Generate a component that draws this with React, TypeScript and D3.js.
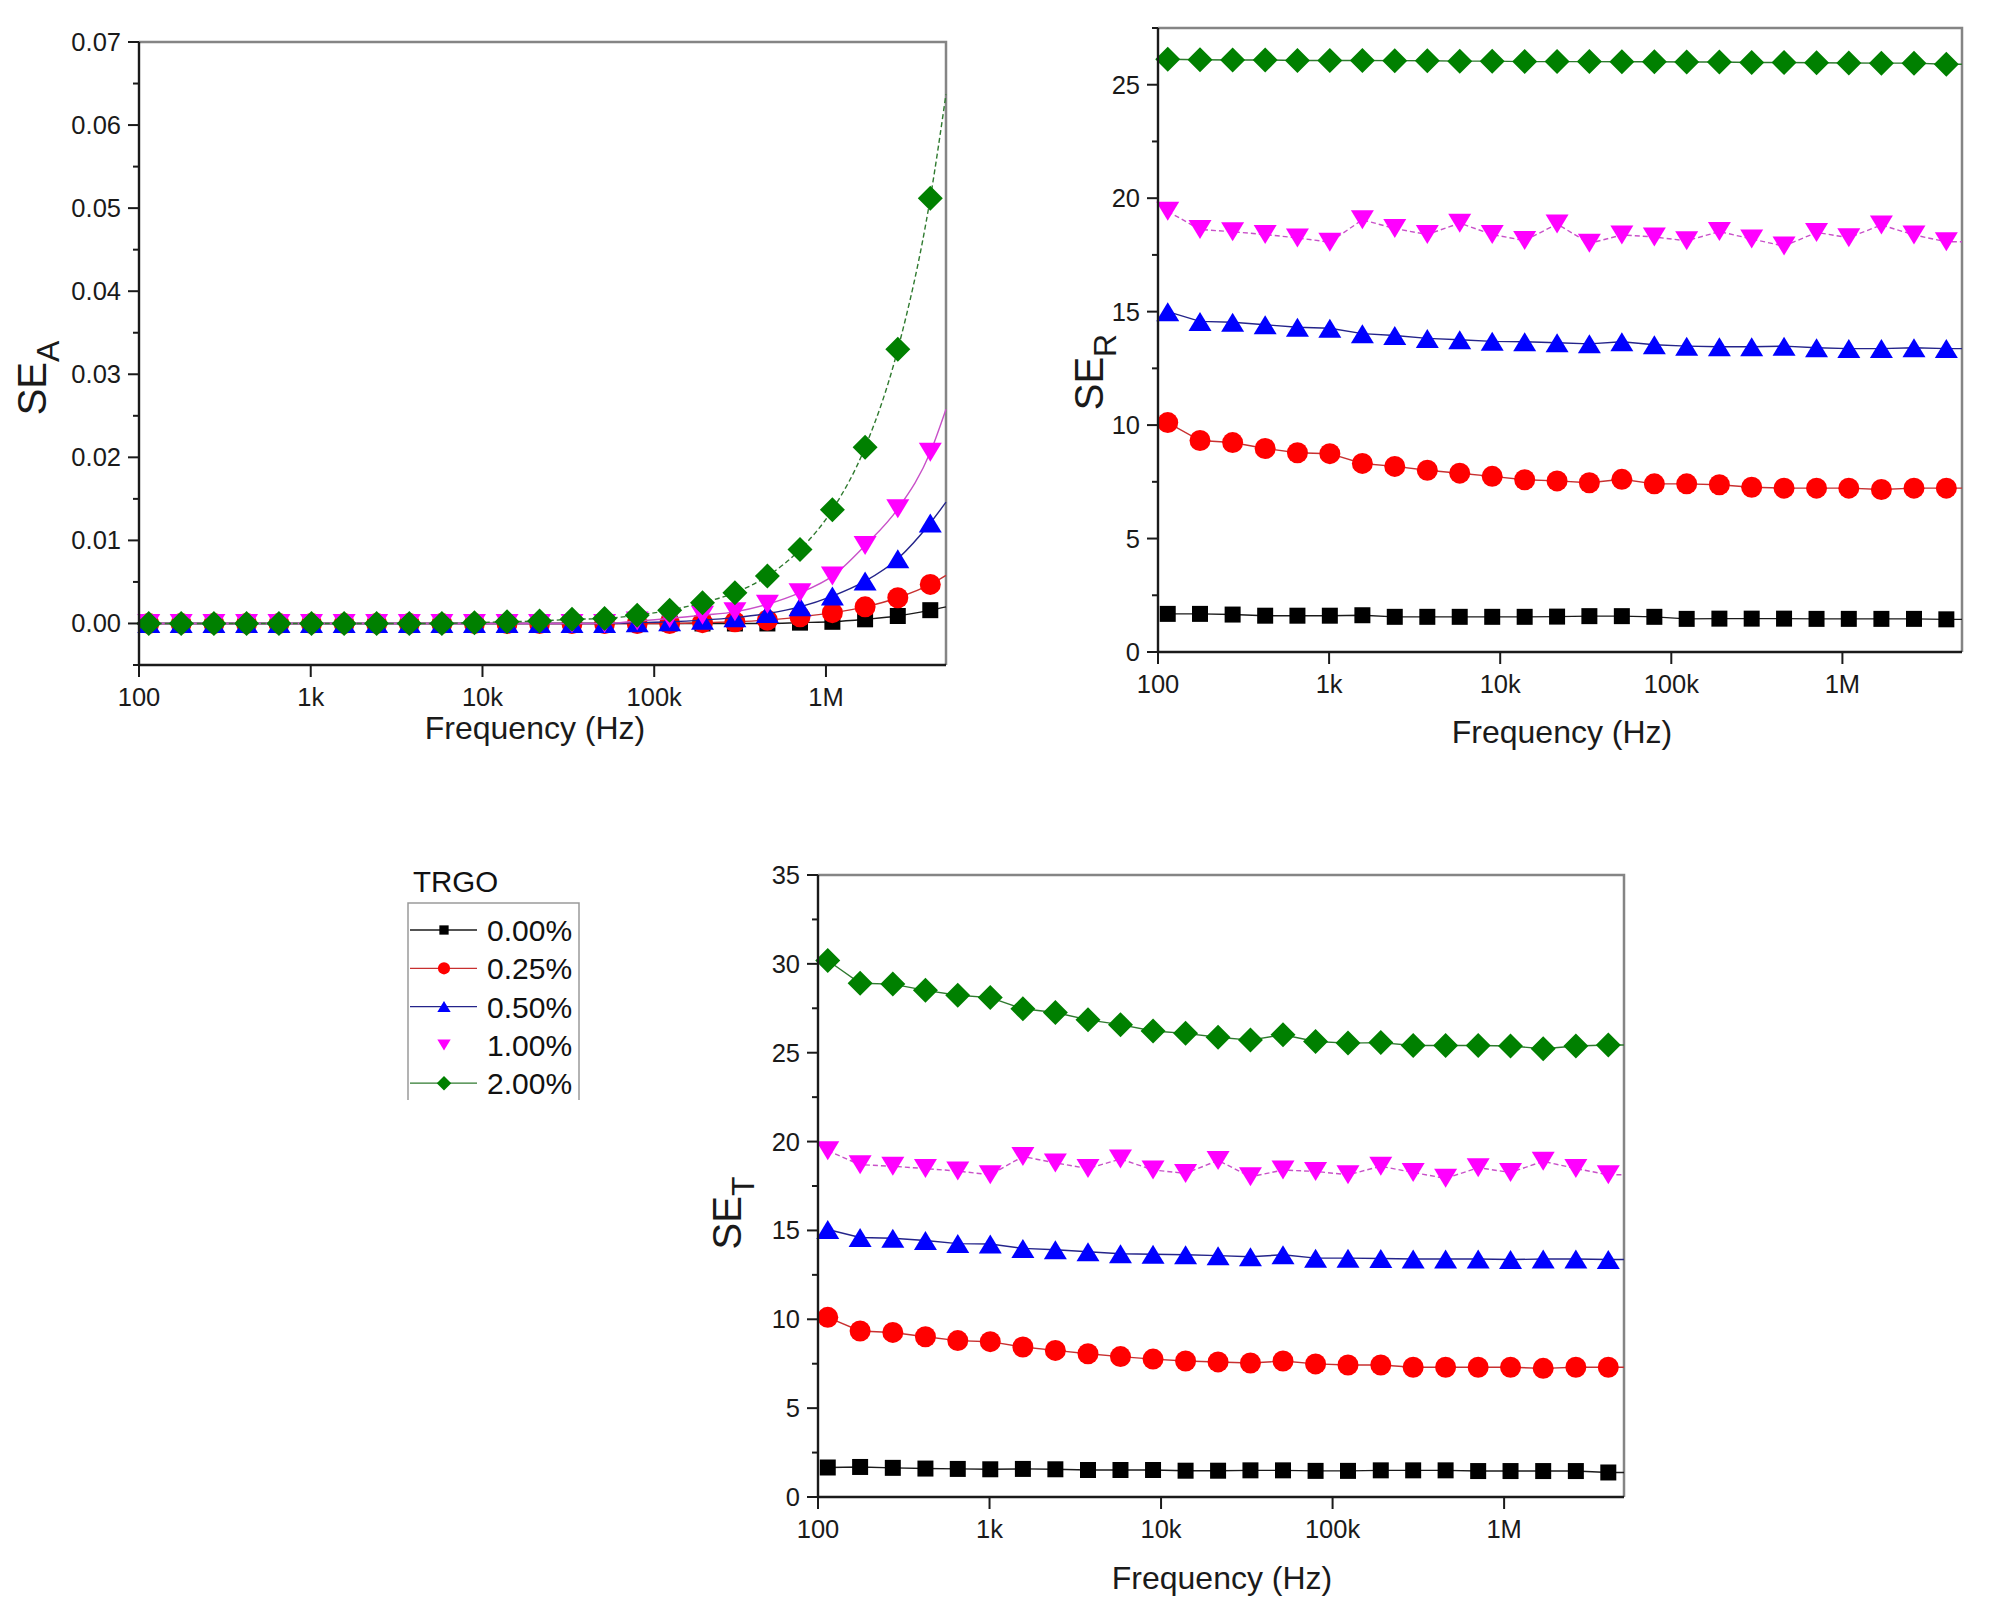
import React from 'react';
import * as d3 from 'd3';

// Sweep frequencies (Hz) shared by all three panels
const frequencies = [
  114, 176, 273, 423, 653, 1010, 1565, 2420, 3750, 5800, 8980, 13900, 21500,
  33200, 51400, 79600, 123000, 191000, 295000, 456000, 706000, 1090000,
  1690000, 2620000, 4050000,
];
const freqDomain = [100, 5000000];
const freqTicks = [100, 1000, 10000, 100000, 1000000];
const freqTickLabels = ['100', '1k', '10k', '100k', '1M'];

// Legend
const legendTitle = 'TRGO';
const seriesNames = ['0.00%', '0.25%', '0.50%', '1.00%', '2.00%'];

// SE_A (absorption)
const seaBlack = [0, 0, 0, 0, 0, 0, 0, 0, 0, 0, 0, 0, 0, 0, 0, 0, 0, 0, 0, 0, 0.0001, 0.0002, 0.0005, 0.0009, 0.0016];
const seaRed = [0, 0, 0, 0, 0, 0, 0, 0, 0, 0, 0, 0, 0, 0, 0, 0, 0, 0.0001, 0.0002, 0.0004, 0.0008, 0.0013, 0.0020, 0.0031, 0.0047];
const seaBlue = [0, 0, 0, 0, 0, 0, 0, 0, 0, 0, 0, 0, 0, 0, 0, 0.0001, 0.0002, 0.0004, 0.0007, 0.0012, 0.0020, 0.0033, 0.0051, 0.0078, 0.0121];
const seaMagenta = [0, 0, 0, 0, 0, 0, 0, 0, 0, 0, 0, 0, 0, 0, 0, 0.0003, 0.0006, 0.0010, 0.0014, 0.0023, 0.0037, 0.0057, 0.0094, 0.0138, 0.0206];
const seaGreen = [0, 0, 0, 0, 0, 0, 0, 0, 0, 0, 0.0001, 0.0002, 0.0003, 0.0005, 0.0006, 0.0010, 0.0016, 0.0025, 0.0037, 0.0057, 0.0089, 0.0137, 0.0212, 0.0330, 0.0512];
// curve values where each SE_A trace meets the right frame (5 MHz)
const seaLineEnd = [0.0020, 0.0058, 0.0146, 0.0258, 0.0637];
const seaTicks = [0, 0.01, 0.02, 0.03, 0.04, 0.05, 0.06, 0.07];
const seaMinor = [-0.005, 0.005, 0.015, 0.025, 0.035, 0.045, 0.055, 0.065];

// SE_R (reflection)
const serBlack = [1.68, 1.68, 1.65, 1.60, 1.60, 1.60, 1.62, 1.55, 1.55, 1.55, 1.55, 1.55, 1.56, 1.58, 1.58, 1.55, 1.46, 1.47, 1.47, 1.47, 1.46, 1.46, 1.46, 1.46, 1.44];
const serRed = [10.11, 9.32, 9.23, 8.97, 8.78, 8.74, 8.31, 8.18, 8.01, 7.88, 7.74, 7.59, 7.54, 7.46, 7.61, 7.41, 7.41, 7.37, 7.26, 7.22, 7.22, 7.22, 7.16, 7.22, 7.22];
const serBlue = [15.0, 14.57, 14.53, 14.42, 14.31, 14.27, 14.03, 13.95, 13.82, 13.76, 13.69, 13.67, 13.63, 13.58, 13.67, 13.54, 13.48, 13.45, 13.45, 13.48, 13.41, 13.37, 13.37, 13.41, 13.37];
const serMagenta = [19.42, 18.62, 18.52, 18.40, 18.25, 18.06, 19.05, 18.66, 18.40, 18.90, 18.40, 18.13, 18.86, 18.01, 18.38, 18.29, 18.12, 18.53, 18.20, 17.89, 18.49, 18.26, 18.82, 18.38, 18.08];
const serGreen = [26.12, 26.10, 26.09, 26.09, 26.07, 26.07, 26.07, 26.06, 26.06, 26.04, 26.04, 26.02, 26.02, 26.02, 26.01, 26.01, 26.0, 26.0, 25.98, 25.98, 25.97, 25.96, 25.95, 25.95, 25.90];
const serTicks = [0, 5, 10, 15, 20, 25];
const serMinor = [2.5, 7.5, 12.5, 17.5, 22.5, 27.5];

// SE_T (total)
const setBlack = [1.66, 1.69, 1.64, 1.60, 1.58, 1.56, 1.58, 1.56, 1.52, 1.52, 1.52, 1.48, 1.48, 1.50, 1.50, 1.47, 1.47, 1.50, 1.50, 1.50, 1.46, 1.46, 1.46, 1.46, 1.38];
const setRed = [10.11, 9.34, 9.26, 9.02, 8.80, 8.74, 8.44, 8.25, 8.06, 7.90, 7.76, 7.65, 7.60, 7.54, 7.65, 7.49, 7.43, 7.43, 7.30, 7.30, 7.30, 7.30, 7.24, 7.30, 7.30];
const setBlue = [15.05, 14.60, 14.56, 14.43, 14.26, 14.24, 13.99, 13.91, 13.80, 13.69, 13.66, 13.63, 13.58, 13.52, 13.63, 13.44, 13.44, 13.42, 13.39, 13.39, 13.39, 13.36, 13.39, 13.39, 13.36];
const setMagenta = [19.48, 18.70, 18.61, 18.48, 18.34, 18.13, 19.16, 18.80, 18.48, 19.02, 18.40, 18.21, 18.94, 18.02, 18.40, 18.32, 18.13, 18.61, 18.26, 17.93, 18.53, 18.26, 18.89, 18.48, 18.13];
const setGreen = [30.19, 28.91, 28.86, 28.51, 28.23, 28.10, 27.47, 27.26, 26.85, 26.58, 26.22, 26.09, 25.87, 25.71, 26.01, 25.63, 25.54, 25.57, 25.41, 25.41, 25.41, 25.38, 25.22, 25.38, 25.43];
const setTicks = [0, 5, 10, 15, 20, 25, 30, 35];
const setMinor = [2.5, 7.5, 12.5, 17.5, 22.5, 27.5, 32.5];

const FONT = "'Liberation Sans', Arial, Helvetica, sans-serif";

type Shape = 'square' | 'circle' | 'up' | 'down' | 'diamond';

interface SeriesStyle {
  color: string;
  line: string;
  shape: Shape;
  dashA?: string;
  dashRT?: string;
}

const styles: SeriesStyle[] = [
  { color: '#000000', line: '#1a1a1a', shape: 'square' },
  { color: '#ff0000', line: '#c83030', shape: 'circle' },
  { color: '#0000ff', line: '#24248a', shape: 'up' },
  { color: '#ff00ff', line: '#c850c8', shape: 'down', dashRT: '5,3' },
  { color: '#008000', line: '#2f7a2f', shape: 'diamond', dashA: '5,3' },
];

function markerPath(shape: Shape, k: number): string {
  switch (shape) {
    case 'square': {
      const s = 8 * k;
      return `M${-s},${-s}H${s}V${s}H${-s}Z`;
    }
    case 'circle': {
      const p = d3.path();
      p.arc(0, 0, 10.5 * k, 0, Math.PI * 2);
      p.closePath();
      return p.toString();
    }
    case 'up': {
      const w = 11.5 * k;
      const h = 9.5 * k;
      return `M0,${-h}L${w},${h}L${-w},${h}Z`;
    }
    case 'down': {
      const w = 11.5 * k;
      const h = 9.5 * k;
      return `M0,${h}L${w},${-h}L${-w},${-h}Z`;
    }
    case 'diamond':
    default: {
      const d = 12.5 * k;
      return `M0,${-d}L${d},0L0,${d}L${-d},0Z`;
    }
  }
}

interface Box { l: number; r: number; t: number; b: number }

interface PanelProps {
  box: Box;
  yDomain: [number, number];
  yTicks: number[];
  yMinor: number[];
  yFormat: (v: number) => string;
  series: number[][];
  lineEnds: number[];
  sub: string;
  label: { x: number; y: number };
  titleY: number;
  titleX: number;
  smooth: boolean;
  panel: 'A' | 'RT';
}

function Panel(props: PanelProps) {
  const { box, yDomain, yTicks, yMinor, yFormat, series, lineEnds, sub, label, titleY, titleX, smooth, panel } = props;
  const x = d3.scaleLog().domain(freqDomain).range([box.l, box.r]);
  const y = d3.scaleLinear().domain(yDomain).range([box.b, box.t]);
  const line = d3
    .line<[number, number]>()
    .x((d) => x(d[0]))
    .y((d) => y(d[1]))
    .curve(smooth ? d3.curveMonotoneX : d3.curveLinear);

  return (
    <g>
      {/* top and right frame */}
      <path
        d={`M${box.l},${box.t}H${box.r}V${box.b}`}
        fill="none"
        stroke="#858585"
        strokeWidth={2.5}
      />
      {/* series */}
      {series.map((vals, si) => {
        const st = styles[si];
        const pts: [number, number][] = frequencies.map((f, i) => [f, vals[i]]);
        pts.push([freqDomain[1], lineEnds[si]]);
        const dash = panel === 'A' ? st.dashA : st.dashRT;
        return (
          <g key={si}>
            <path
              d={line(pts) || ''}
              fill="none"
              stroke={st.line}
              strokeWidth={1.4}
              strokeDasharray={dash}
            />
            {frequencies.map((f, i) => (
              <path
                key={i}
                d={markerPath(st.shape, 1)}
                transform={`translate(${x(f)},${y(vals[i])})`}
                fill={st.color}
              />
            ))}
          </g>
        );
      })}
      {/* left axis */}
      <line x1={box.l} x2={box.l} y1={box.t} y2={box.b} stroke="#1a1a1a" strokeWidth={2.4} />
      {yTicks.map((v) => (
        <g key={`yt${v}`}>
          <line x1={box.l - 11} x2={box.l} y1={y(v)} y2={y(v)} stroke="#1a1a1a" strokeWidth={2} />
          <text
            x={box.l - 18}
            y={y(v) + 9}
            textAnchor="end"
            fontSize={25.5}
            fontFamily={FONT}
            fill="#1a1a1a"
          >
            {yFormat(v)}
          </text>
        </g>
      ))}
      {yMinor.map((v) => (
        <line key={`ym${v}`} x1={box.l - 6} x2={box.l} y1={y(v)} y2={y(v)} stroke="#1a1a1a" strokeWidth={2} />
      ))}
      {/* bottom axis */}
      <line x1={box.l} x2={box.r} y1={box.b} y2={box.b} stroke="#1a1a1a" strokeWidth={2.4} />
      {freqTicks.map((f, i) => (
        <g key={`xt${f}`}>
          <line x1={x(f)} x2={x(f)} y1={box.b} y2={box.b + 12} stroke="#1a1a1a" strokeWidth={2} />
          <text
            x={x(f)}
            y={box.b + 41}
            textAnchor="middle"
            fontSize={25.5}
            fontFamily={FONT}
            fill="#1a1a1a"
          >
            {freqTickLabels[i]}
          </text>
        </g>
      ))}
      {/* axis titles */}
      <text x={titleX} y={titleY} textAnchor="middle" fontSize={32} fontFamily={FONT} fill="#1a1a1a">
        Frequency (Hz)
      </text>
      <text
        transform={`translate(${label.x},${label.y}) rotate(-90)`}
        textAnchor="middle"
        fontSize={40}
        fontFamily={FONT}
        fill="#1a1a1a"
      >
        SE
        <tspan fontSize={32} dy={13}>
          {sub}
        </tspan>
      </text>
    </g>
  );
}

function Legend() {
  const left = 408;
  const right = 579;
  const top = 903;
  const bottom = 1100;
  const rowY = (i: number) => 930 + i * 38.3;
  return (
    <g>
      <text x={413} y={892} fontSize={29.5} fontFamily={FONT} fill="#111">
        {legendTitle}
      </text>
      <path
        d={`M${left},${bottom}V${top}H${right}V${bottom}`}
        fill="none"
        stroke="#9a9a9a"
        strokeWidth={1.5}
      />
      {seriesNames.map((name, i) => {
        const st = styles[i];
        const yy = rowY(i);
        return (
          <g key={name}>
            {st.shape !== 'down' && (
              <line x1={410} x2={477} y1={yy} y2={yy} stroke={st.line} strokeWidth={1.3} />
            )}
            <path d={markerPath(st.shape, 0.58)} transform={`translate(444,${yy})`} fill={st.color} />
            <text x={487} y={yy + 11} fontSize={30} fontFamily={FONT} fill="#111">
              {name}
            </text>
          </g>
        );
      })}
    </g>
  );
}

export default function App() {
  const fmt2 = d3.format('.2f');
  const fmt0 = d3.format('d');
  return (
    <svg
      width={1998}
      height={1606}
      viewBox="0 0 1998 1606"
      style={{ position: 'absolute', left: 0, top: 0, background: '#fff' }}
    >
      <rect x={0} y={0} width={1998} height={1606} fill="#fff" />
      <Panel
        box={{ l: 139, r: 946, t: 42, b: 665 }}
        yDomain={[-0.005, 0.07]}
        yTicks={seaTicks}
        yMinor={seaMinor}
        yFormat={fmt2}
        series={[seaBlack, seaRed, seaBlue, seaMagenta, seaGreen]}
        lineEnds={seaLineEnd}
        sub="A"
        label={{ x: 46, y: 378 }}
        titleX={535}
        titleY={739}
        smooth={true}
        panel="A"
      />
      <Panel
        box={{ l: 1158, r: 1962, t: 28, b: 652 }}
        yDomain={[0, 27.5]}
        yTicks={serTicks}
        yMinor={serMinor}
        yFormat={fmt0}
        series={[serBlack, serRed, serBlue, serMagenta, serGreen]}
        lineEnds={[serBlack, serRed, serBlue, serMagenta, serGreen].map((s) => s[s.length - 1])}
        sub="R"
        label={{ x: 1103, y: 372 }}
        titleX={1562}
        titleY={743}
        smooth={false}
        panel="RT"
      />
      <Panel
        box={{ l: 818, r: 1624, t: 875, b: 1497 }}
        yDomain={[0, 35]}
        yTicks={setTicks}
        yMinor={setMinor}
        yFormat={fmt0}
        series={[setBlack, setRed, setBlue, setMagenta, setGreen]}
        lineEnds={[setBlack, setRed, setBlue, setMagenta, setGreen].map((s) => s[s.length - 1])}
        sub="T"
        label={{ x: 741, y: 1213 }}
        titleX={1222}
        titleY={1589}
        smooth={false}
        panel="RT"
      />
      <Legend />
    </svg>
  );
}
